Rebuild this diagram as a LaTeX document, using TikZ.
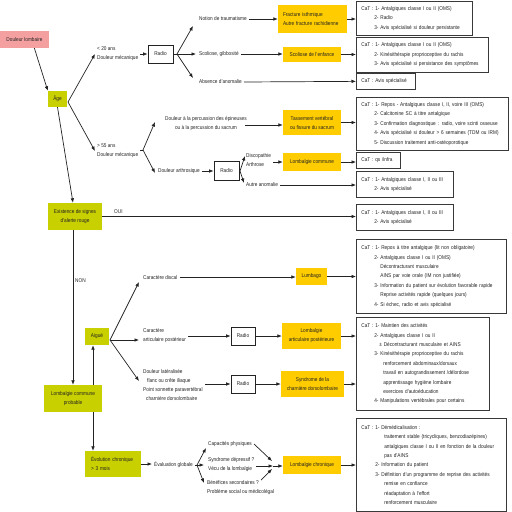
\documentclass[tikz,border=0pt]{standalone}
\usepackage{fontspec}
\setmainfont[FakeStretch=0.86]{Liberation Sans}
\usetikzlibrary{arrows.meta,calc}
\definecolor{pinkbox}{RGB}{244,160,160}
\definecolor{greenbox}{RGB}{200,208,0}
\definecolor{orangebox}{RGB}{255,204,0}
\definecolor{ink}{RGB}{35,35,35}
\begin{document}
\begin{tikzpicture}[x=1pt,y=-1pt,
  every node/.style={font=\fontsize{5.5}{9}\selectfont, text=ink},
  arr/.style={draw=ink, line width=0.7pt, -{Latex[length=4.5pt,width=3.6pt]}},
  ln/.style={draw=ink, line width=0.7pt},
  lbl/.style={inner xsep=2pt, inner ysep=0pt, align=left, anchor=west},
  catbox/.style={draw=ink!90, line width=0.7pt, fill=white, align=left, inner xsep=5pt, inner ysep=2pt, anchor=north west, font=\fontsize{5.5}{9.4}\selectfont},
  pbox/.style={fill=pinkbox, inner sep=1pt, align=center},
  gbox/.style={fill=greenbox, inner sep=1pt, align=center},
  obox/.style={fill=orangebox, inner sep=1pt, align=center},
  rbox/.style={draw=ink, line width=0.7pt, fill=white, inner sep=1pt},
]
\useasboundingbox (0,0) rectangle (512,512);

% ---- left column boxes
\node[pbox, minimum width=49pt, minimum height=17pt] (dl) at (24.5,39.5) {Douleur lombaire};
\node[gbox, minimum width=19pt, minimum height=16pt] (age) at (57.5,99) {Âge};
\node[gbox, minimum width=54pt, minimum height=27pt] (exist) at (75,216.5) {Existence de signes\\d'alerte rouge};
\node[gbox, minimum width=24pt, minimum height=17pt] (aigu) at (97,336.5) {Aiguë};
\node[gbox, minimum width=58pt, minimum height=27pt] (lcp) at (73,398.5) {Lombalgie commune\\probable};
\node[gbox, align=left, text width=44pt, inner xsep=6pt, minimum height=26pt] (evol) at (113,464) {Évolution chronique\\> 3 mois};

% ---- radio boxes
\node[rbox, minimum width=25pt, minimum height=18pt] (radio1) at (160.5,54) {Radio};
\node[rbox, minimum width=25pt, minimum height=19pt] (radio2) at (226.5,170.5) {Radio};
\node[rbox, minimum width=24pt, minimum height=18pt] (radio3) at (243,336) {Radio};
\node[rbox, minimum width=24pt, minimum height=18pt] (radio4) at (243,384) {Radio};

% ---- orange boxes
\node[obox, align=left, text width=59pt, inner xsep=5pt, minimum height=28pt] (fract) at (312.5,19) {Fracture isthmique\\Autre fracture rachidienne};
\node[obox, minimum width=58pt, minimum height=15pt] (scol) at (312,54.5) {Scoliose de l'enfance};
\node[obox, minimum width=58pt, minimum height=25pt] (tass) at (312,122.5) {Tassement vertébral\\ou fissure du sacrum};
\node[obox, minimum width=58pt, minimum height=18pt] (lcom) at (312,162) {Lombalgie commune};
\node[obox, minimum width=31pt, minimum height=17pt] (lumb) at (311.5,276.5) {Lumbago};
\node[obox, minimum width=59pt, minimum height=26pt] (lap) at (311.5,336) {Lombalgie\\articulaire postérieure};
\node[obox, minimum width=63pt, minimum height=26pt] (synd) at (312.5,384) {Syndrome de la\\charnière dorsolombaire};
\node[obox, minimum width=58pt, minimum height=18pt] (lchr) at (312,465) {Lombalgie chronique};

% ---- CaT boxes
\node[catbox, text width=106pt, minimum height=34pt] (cat1) at (356,1) {CaT : 1- Antalgiques classe I ou II (OMS)\\\hspace*{13pt}2- Radio\\\hspace*{13pt}3- Avis spécialisé si douleur persistante};
\node[catbox, text width=122pt, minimum height=35pt] (cat2) at (356,37) {CaT : 1- Antalgiques classe I ou II (OMS)\\\hspace*{13pt}2- Kinésithérapie proprioceptive du rachis\\\hspace*{13pt}3- Avis spécialisé si persistance des symptômes};
\node[catbox, text width=49pt, minimum height=16pt] (cat3) at (356,73) {CaT : Avis spécialisé};
\node[catbox, text width=142pt, minimum height=53pt] (cat4) at (356,97) {CaT : 1- Repos - Antalgiques classe I, II, voire III (OMS)\\\hspace*{13pt}2- Calcitonine SC à titre antalgique\\\hspace*{13pt}3- Confirmation diagnostique : radio, voire scinti osseuse\\\hspace*{13pt}4- Avis spécialisé si douleur > 6 semaines (TDM ou IRM)\\\hspace*{13pt}5- Discussion traitement anti-ostéoporotique};
\node[catbox, text width=34pt, minimum height=16pt] (cat5) at (356,152) {CaT : qs /infra};
\node[catbox, text width=87pt, minimum height=26pt] (cat6) at (356,171) {CaT : 1- Antalgiques classe I, II ou III\\\hspace*{13pt}2- Avis spécialisé};
\node[catbox, text width=87pt, minimum height=26pt] (cat7) at (356,204) {CaT : 1- Antalgiques classe I, II ou III\\\hspace*{13pt}2- Avis spécialisé};
\node[catbox, text width=140pt, minimum height=74pt] (cat8) at (356,239) {CaT : 1- Repos à titre antalgique (lit non obligatoire)\\\hspace*{13pt}2- Antalgiques classe I ou II (OMS)\\\hspace*{19pt}Décontracturant musculaire\\\hspace*{19pt}AINS par voie orale (IM non justifiée)\\\hspace*{13pt}3- Information du patient sur évolution favorable rapide\\\hspace*{19pt}Reprise activités rapide (quelques jours)\\\hspace*{13pt}4- Si échec, radio et avis spécialisé};
\node[catbox, text width=123pt, minimum height=93pt] (cat9) at (356,317) {CaT : 1- Maintien des activités\\\hspace*{13pt}2- Antalgiques classe I ou II\\\hspace*{18pt}± Décontracturant musculaire et AINS\\\hspace*{13pt}3- Kinésithérapie proprioceptive du rachis\\\hspace*{22pt}renforcement abdominaux/dorsaux\\\hspace*{22pt}travail en autograndissement /délordose\\\hspace*{22pt}apprentissage hygiène lombaire\\\hspace*{22pt}exercices d'autoéducation\\\hspace*{13pt}4- Manipulations vertébrales pour certains};
\node[catbox, text width=140pt, minimum height=93pt] (cat10) at (356,418) {CaT : 1- Démédicalisation :\\\hspace*{23pt}traitement stable (tricycliques, benzodiazépines)\\\hspace*{23pt}antalgiques classe I ou II en fonction de la douleur\\\hspace*{23pt}pas d'AINS\\\hspace*{14pt}2- Information du patient\\\hspace*{14pt}3- Définition d'un programme de reprise des activités\\\hspace*{23pt}remise en confiance\\\hspace*{23pt}réadaptation à l'effort\\\hspace*{23pt}renforcement musculaire};

% ---- text labels
\node[lbl] (notion) at (197,19) {Notion de traumatisme};
\node[lbl] (scolt) at (197,54) {Scoliose, gibbosité};
\node[lbl] (absence) at (197,82) {Absence d'anomalie};
\node[lbl] (lt20) at (95,54) {< 20 ans\\Douleur mécanique};
\node[lbl] (gt55) at (95,151) {> 55 ans\\Douleur mécanique};
\node[inner sep=0pt, align=center] (perc) at (206,123.5) {Douleur à la percussion des épineuses\\ou à la percussion du sacrum};
\node[lbl] (arth) at (156,171) {Douleur arthrosique};
\node[lbl] (disco) at (244,160) {Discopathie\\Arthrose};
\node[lbl] (autre) at (244,185) {Autre anomalie};
\node[lbl] (discal) at (141,277) {Caractère discal};
\node[lbl] (artp) at (141,336) {Caractère\\articulaire postérieur};
\node[lbl] (lat) at (141,384.5) {Douleur latéralisée\\\hspace*{4pt}flanc ou crête iliaque\\Point sonnette paravertébral\\\hspace*{3pt}charnière dorsolombaire};
\node[lbl] (evalg) at (152,465) {Évaluation globale};
\node[lbl] (capa) at (206,444) {Capacités physiques};
\node[lbl] (synddep) at (206,465) {Syndrome dépressif ?\\Vécu de la lombalgie};
\node[lbl] (benef) at (205,487.5) {Bénéfices secondaires ?\\Problème social ou médicolégal};
\node[inner sep=0pt, anchor=south west] (oui) at (114,214) {OUI};
\node[lbl] (non) at (73,281) {NON};

% ---- coordinates (branch points and arrow tips)
\coordinate (agej) at (68,102);
\coordinate (rj1) at (177,54);
\coordinate (t1a) at (193,26);
\coordinate (t1b) at (196,54);
\coordinate (t1c) at (193,78);
\coordinate (b55) at (143,150);
\coordinate (t55a) at (155,122);
\coordinate (t55b) at (155,173);
\coordinate (percend) at (245,125);
\coordinate (rj2) at (240,171);
\coordinate (t2a) at (245,156);
\coordinate (t2b) at (244,183);
\coordinate (aj) at (110,340);
\coordinate (taa) at (139,282);
\coordinate (tab) at (139,340);
\coordinate (tac) at (139,381);
\coordinate (ej) at (197,465);
\coordinate (tea) at (206,448);
\coordinate (teb) at (204,465);
\coordinate (tec) at (204,483);
\coordinate (bstart) at (261,480);
\coordinate (cj1) at (272,461);
\coordinate (cj2) at (273,466);
\coordinate (cj3) at (272,469);

% ---- connectors
\draw[arr] ($(dl.south)!0.4!(dl.south east)$) -- (age.north west);
\draw[arr] (agej) -- (lt20.west);
\draw[arr] (agej) -- (gt55.west);
\draw[arr] (age.south) -- (exist.north -| lcp.north);

\draw[arr] (lt20.east |- radio1.west) -- (radio1.west);
\draw[ln] (radio1.east) -- (rj1);
\draw[arr] (rj1) -- (t1a);
\draw[arr] (rj1) -- (t1b);
\draw[arr] (rj1) -- (t1c);
\draw[arr] (notion.east) -- (notion.east -| fract.west);
\draw[arr] (fract.east) -- (fract.east -| cat1.west);
\draw[arr] (scolt.east) -- (scolt.east -| scol.west);
\draw[arr] (scol.east) -- (scol.east -| cat2.west);
\draw[arr] (absence.east) -- (cat3.west);

\draw[ln] (gt55.east |- b55) -- (b55);
\draw[arr] (b55) -- (t55a);
\draw[arr] (b55) -- (t55b);
\draw[arr] (percend) -- (percend -| tass.west);
\draw[arr] (tass.east) -- (tass.east -| cat4.west);
\draw[arr] (arth.east) -- (arth.east -| radio2.west);
\draw[ln] (radio2.east) -- (rj2);
\draw[arr] (rj2) -- (t2a);
\draw[arr] (rj2) -- (t2b);
\draw[arr] (disco.east |- lcom.west) -- (lcom.west);
\draw[arr] (lcom.east) -- (lcom.east -| cat5.west);
\draw[arr] (autre.east) -- (autre.east -| cat6.west);

\draw[arr] (exist.east) -- (exist.east -| cat7.west);
\draw[arr] (exist.south -| lcp.north) -- (lcp.north);
\draw[arr] ([xshift=20pt]lcp.north) -- ([xshift=20pt]lcp.north |- aigu.south);
\draw[arr] ([xshift=20pt]lcp.south) -- ([xshift=20pt]lcp.south |- evol.north);

\draw[arr] (aj) -- (taa);
\draw[arr] (aj) -- (tab);
\draw[arr] (aj) -- (tac);
\draw[arr] (discal.east) -- (discal.east -| lumb.west);
\draw[arr] (lumb.east) -- (lumb.east -| cat8.west);
\draw[arr] (artp.east) -- (artp.east -| radio3.west);
\draw[arr] (radio3.east) -- (radio3.east -| lap.west);
\draw[arr] (lap.east) -- (lap.east -| cat9.west);
\draw[arr] (lat.east |- radio4.west) -- (radio4.west);
\draw[arr] (radio4.east) -- (radio4.east -| synd.west);
\draw[arr] (synd.east) -- (synd.east -| cat9.west);

\draw[arr] (evol.east) -- (evol.east -| evalg.west);
\draw[ln] (evalg.east) -- (ej);
\draw[arr] (ej) -- (tea);
\draw[arr] (ej) -- (teb);
\draw[arr] (ej) -- (tec);
\draw[arr] (capa.east) -- (cj1);
\draw[arr] (synddep.east |- cj2) -- (cj2);
\draw[arr] (bstart) -- (cj3);
\draw[arr] (cj2) -- (cj2 -| lchr.west);
\draw[arr] (lchr.east) -- (lchr.east -| cat10.west);
\end{tikzpicture}
\end{document}
